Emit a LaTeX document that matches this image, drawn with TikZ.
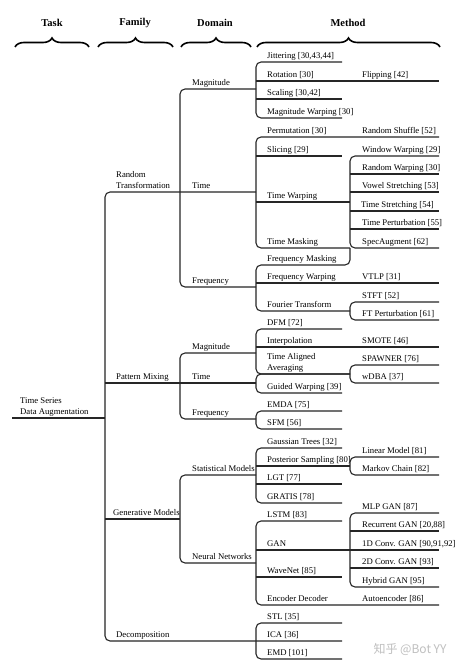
\documentclass[tikz,border=0pt]{standalone}
\usepackage{fontspec}
\setmainfont{Liberation Serif}
\newfontfamily\cjkfont{Noto Sans CJK SC}
\usepackage{tikz}
\usetikzlibrary{decorations.pathreplacing}

\begin{document}
\begin{tikzpicture}[x=1pt,y=-1pt,
  lbl/.style={anchor=south west,inner xsep=0pt,inner ysep=3pt,text depth=0pt,align=left,font=\fontsize{8.7}{11}\selectfont},
  head/.style={font=\fontsize{10.5}{12}\selectfont\bfseries},
  brc/.style={decorate,decoration={brace,amplitude=9pt},line width=1.6pt},
  tree/.style={line width=1.1pt,black!85,rounded corners=5pt}]
  \fill[white] (0,0) rectangle (474,669);
  \useasboundingbox (0,0) rectangle (474,669);
  \coordinate (x0) at (12,0);
  \coordinate (x1) at (105,0);
  \coordinate (x2) at (180,0);
  \coordinate (x3) at (256,0);
  \coordinate (x4) at (350,0);
  \coordinate (xs) at (342,0);
  \coordinate (xl) at (439,0);

  \node[head] (hTask) at (52,23) {Task};
  \node[head] (hFam) at (135,23) {Family};
  \node[head] (hDom) at (215,23) {Domain};
  \node[head] (hMeth) at (348,23) {Method};
  \foreach \a/\b in {15/89,98/173,181/251,257/440}{
    \draw[brc] (\a,47) -- (\b,47);
  }

  \node[lbl] (root) at (20,418) {Time Series\\Data Augmentation};
  \node[lbl] (rt) at (116,192) {Random\\Transformation};
  \node[lbl] (pm) at (116,383) {Pattern Mixing};
  \node[lbl] (gm) at (113,519) {Generative Models};
  \node[lbl] (dec) at (116,641) {Decomposition};

  \node[lbl] (rtmag) at (192,89) {Magnitude};
  \node[lbl] (rttime) at (192,192) {Time};
  \node[lbl] (rtfreq) at (192,287) {Frequency};
  \node[lbl] (pmmag) at (192,353) {Magnitude};
  \node[lbl] (pmtime) at (192,383) {Time};
  \node[lbl] (pmfreq) at (192,419) {Frequency};
  \node[lbl] (stat) at (192,475) {Statistical Models};
  \node[lbl] (nn) at (192,563) {Neural Networks};

  \node[lbl] (jit) at (267,62) {Jittering [30,43,44]};
  \node[lbl] (rot) at (267,81) {Rotation [30]};
  \node[lbl] (scal) at (267,99) {Scaling [30,42]};
  \node[lbl] (mwarp) at (267,118) {Magnitude Warping [30]};
  \node[lbl] (perm) at (267,137) {Permutation [30]};
  \node[lbl] (slic) at (267,156) {Slicing [29]};
  \node[lbl] (twarp) at (267,202) {Time Warping};
  \node[lbl] (tmask) at (267,248) {Time Masking};
  \node[lbl] (fmask) at (267,265) {Frequency Masking};
  \node[lbl] (fwarp) at (267,283) {Frequency Warping};
  \node[lbl] (four) at (267,311) {Fourier Transform};
  \node[lbl] (dfm) at (267,329) {DFM [72]};
  \node[lbl] (interp) at (267,347) {Interpolation};
  \node[lbl] (taa) at (267,374) {Time Aligned\\Averaging};
  \node[lbl] (guid) at (267,393) {Guided Warping [39]};
  \node[lbl] (emda) at (267,411) {EMDA [75]};
  \node[lbl] (sfm) at (267,429) {SFM [56]};
  \node[lbl] (gtree) at (267,448) {Gaussian Trees [32]};
  \node[lbl] (post) at (267,466) {Posterior Sampling [80]};
  \node[lbl] (lgt) at (267,484) {LGT [77]};
  \node[lbl] (gratis) at (267,503) {GRATIS [78]};
  \node[lbl] (lstm) at (267,521) {LSTM [83]};
  \node[lbl] (gan) at (267,550) {GAN};
  \node[lbl] (wave) at (267,577) {WaveNet [85]};
  \node[lbl] (encdec) at (267,605) {Encoder Decoder};
  \node[lbl] (stl) at (267,623) {STL [35]};
  \node[lbl] (ica) at (267,641) {ICA [36]};
  \node[lbl] (emd) at (267,659) {EMD [101]};

  \node[lbl] (flip) at (362,81) {Flipping [42]};
  \node[lbl] (rshuf) at (362,137) {Random Shuffle [52]};
  \node[lbl] (wwarp) at (362,156) {Window Warping [29]};
  \node[lbl] (rwarp) at (362,174) {Random Warping [30]};
  \node[lbl] (vowel) at (362,192) {Vowel Stretching [53]};
  \node[lbl] (tstr) at (361,211) {Time Stretching [54]};
  \node[lbl] (tpert) at (362,229) {Time Perturbation [55]};
  \node[lbl] (spec) at (362,248) {SpecAugment [62]};
  \node[lbl] (vtlp) at (362,283) {VTLP [31]};
  \node[lbl] (stft) at (362,302) {STFT [52]};
  \node[lbl] (ftpert) at (362,320) {FT Perturbation [61]};
  \node[lbl] (smote) at (362,347) {SMOTE [46]};
  \node[lbl] (spawn) at (362,365) {SPAWNER [76]};
  \node[lbl] (wdba) at (362,383) {wDBA [37]};
  \node[lbl] (linm) at (362,457) {Linear Model [81]};
  \node[lbl] (markov) at (362,475) {Markov Chain [82]};
  \node[lbl] (mlp) at (362,513) {MLP GAN [87]};
  \node[lbl] (rgan) at (362,531) {Recurrent GAN [20,88]};
  \node[lbl] (gan1d) at (362,550) {1D Conv. GAN [90,91,92]};
  \node[lbl] (gan2d) at (362,568) {2D Conv. GAN [93]};
  \node[lbl] (hgan) at (362,587) {Hybrid GAN [95]};
  \node[lbl] (autoenc) at (362,605) {Autoencoder [86]};

  \foreach \a/\p/\t/\u/\b in {x3/x1/rt/dec/xs, x3/x2/rtmag/rtfreq/x3, x3/x2/pmmag/pmfreq/x3,
      x3/x2/stat/nn/x3, xs/x3/jit/mwarp/xs, xl/x3/perm/tmask/x4, xl/x4/wwarp/spec/xl,
      xl/x4/stft/ftpert/xl, xs/x3/dfm/taa/x4, x4/x3/taa/guid/xs, xl/x4/spawn/wdba/xl,
      xs/x3/emda/sfm/xs, xs/x3/gtree/gratis/xs, xl/x4/linm/markov/xl, xs/x3/lstm/encdec/xl,
      xl/x4/mlp/hgan/xl, xs/x3/stl/emd/xs}{
    \draw[tree] (\a|-\t.south) -- (\p|-\t.south) -- (\p|-\u.south) -- (\b|-\u.south);
  }
  \draw[tree] (x4|-spec.south) -- (x4|-fmask.south) -- (x3|-fmask.south) -- (x3|-four.south) -- (x4|-four.south);
  \foreach \n/\a/\b in {root/x0/x1, pm/x1/x3, gm/x1/x2, rot/x3/xl, scal/x3/xs, slic/x3/xs,
      twarp/x3/x4, fwarp/x3/xl, interp/x3/xl, post/x3/x4, lgt/x3/xs, gan/x3/xl, wave/x3/xs,
      rwarp/x4/xl, vowel/x4/xl, tstr/x4/xl, tpert/x4/xl, rgan/x4/xl, gan2d/x4/xl}{
    \draw[tree] (\a|-\n.south) -- (\b|-\n.south);
  }

  \node[anchor=west,text=black!25,font=\cjkfont\fontsize{12}{14}\selectfont] (wm) at (370,649) {知乎 @Bot YY};
\end{tikzpicture}
\end{document}
